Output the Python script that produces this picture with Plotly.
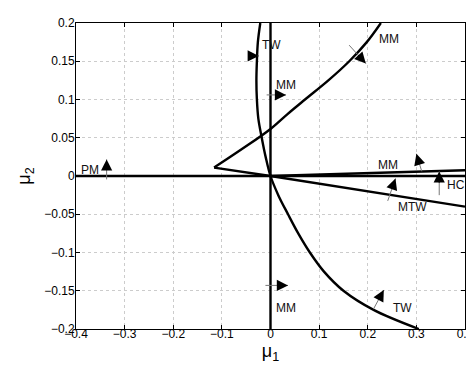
import plotly.graph_objects as go

# ---- data ----
# horizontal axis line (PM / HC branch) and vertical MM line
h_line_mu1 = [-0.4, 0.4]
h_line_mu2 = [0.0, 0.0]
v_line_mu1 = [0.0, 0.0]
v_line_mu2 = [-0.2, 0.2]

# TW curve (top to bottom)
tw_mu1 = [-0.021, -0.026, -0.028, -0.029, -0.028, -0.025, -0.018, -0.010, 0.0,
          0.016, 0.036, 0.057, 0.081, 0.110, 0.150, 0.212, 0.305]
tw_mu2 = [0.200, 0.175, 0.150, 0.125, 0.100, 0.075, 0.050, 0.025, 0.0,
          -0.025, -0.050, -0.075, -0.100, -0.125, -0.150, -0.175, -0.200]

# MM curve from the top down to the kink
mm_mu1 = [0.227, 0.198, 0.162, 0.119, 0.071, 0.035, 0.0, -0.058, -0.116]
mm_mu2 = [0.200, 0.175, 0.150, 0.125, 0.100, 0.081, 0.0615, 0.0355, 0.011]

# straight branch from the kink through the origin (MTW line)
mtw_mu1 = [-0.116, 0.0, 0.4]
mtw_mu2 = [0.011, 0.0, -0.040]

# MM line close to mu2 = 0
mm2_mu1 = [0.0, 0.4]
mm2_mu2 = [0.0, 0.0075]

# labels: (text, mu1, mu2)
labels = [
    ("TW", 0.002, 0.171),
    ("MM", 0.032, 0.119),
    ("MM", 0.243, 0.179),
    ("PM", -0.371, 0.0085),
    ("MM", 0.242, 0.0145),
    ("HC", 0.381, -0.012),
    ("MTW", 0.291, -0.041),
    ("MM", 0.032, -0.172),
    ("TW", 0.272, -0.172),
]

# arrows: (tail mu1, tail mu2, head mu1, head mu2)
arrows = [
    (-0.048, 0.157, -0.024, 0.157),
    (-0.011, 0.106, 0.032, 0.106),
    (0.159, 0.173, 0.196, 0.147),
    (-0.337, -0.0064, -0.337, 0.0217),
    (0.312, 0.0042, 0.300, 0.029),
    (0.347, -0.027, 0.347, 0.006),
    (0.240, -0.0345, 0.257, -0.0034),
    (-0.0135, -0.143, 0.036, -0.143),
    (0.210, -0.176, 0.233, -0.149),
]

fig = go.Figure()
for xs, ys, shape in [(h_line_mu1, h_line_mu2, "linear"),
                      (v_line_mu1, v_line_mu2, "linear"),
                      (tw_mu1, tw_mu2, "spline"),
                      (mm_mu1, mm_mu2, "spline"),
                      (mtw_mu1, mtw_mu2, "linear"),
                      (mm2_mu1, mm2_mu2, "linear")]:
    fig.add_trace(go.Scatter(x=xs, y=ys, mode="lines",
                             line=dict(color="black", width=2.4, shape=shape,
                                       smoothing=1.0 if shape == "spline" else None),
                             showlegend=False, hoverinfo="skip"))

annotations = []
for text, x, y in labels:
    annotations.append(dict(x=x, y=y, text=text, showarrow=False,
                            font=dict(size=12, color="#111")))
for tx, ty, hx, hy in arrows:
    # gray tail
    annotations.append(dict(x=hx, y=hy, ax=tx, ay=ty, axref="x", ayref="y",
                            text="", showarrow=True, arrowhead=0,
                            arrowwidth=1, arrowcolor="#777"))
    # black head
    annotations.append(dict(x=hx, y=hy, ax=tx + 0.5 * (hx - tx),
                            ay=ty + 0.5 * (hy - ty), axref="x", ayref="y",
                            text="", showarrow=True, arrowhead=2,
                            arrowsize=1.6, arrowwidth=1.4, arrowcolor="black"))

axis_common = dict(showline=True, linecolor="black", linewidth=1, mirror="ticks",
                   ticks="inside", ticklen=4, tickcolor="black",
                   showgrid=True, gridcolor="#cccccc", griddash="dot", gridwidth=1,
                   zeroline=False, tickfont=dict(size=12, color="black"))

fig.update_layout(
    width=474, height=367,
    margin=dict(l=68, r=8, t=8, b=46),
    paper_bgcolor="white", plot_bgcolor="white",
    font=dict(family="Liberation Sans, Arial, sans-serif", color="black"),
    xaxis=dict(range=[-0.4, 0.4], dtick=0.1, tick0=0, ticklabelstandoff=-6,
               title=dict(text="μ<sub>1</sub>", font=dict(size=18), standoff=0),
               **axis_common),
    yaxis=dict(range=[-0.2, 0.2], dtick=0.05, tick0=0, ticklabelstandoff=-2,
               title=dict(text="μ<sub>2</sub>", font=dict(size=18), standoff=8),
               **axis_common),
    annotations=annotations,
)

fig.write_html("out.html")
